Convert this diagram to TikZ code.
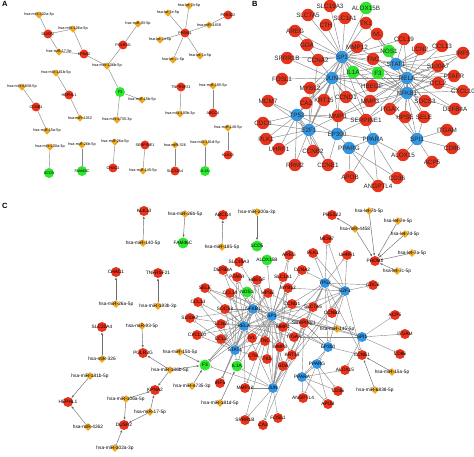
\documentclass[tikz,border=0pt]{standalone}
\usepackage{fontspec}
\setmainfont{Liberation Sans}
\usetikzlibrary{shapes.geometric,arrows.meta}
\pgfdeclarelayer{bg}
\pgfsetlayers{bg,main}
\definecolor{nred}{RGB}{232,52,28}
\definecolor{nora}{RGB}{240,168,32}
\definecolor{ngrn}{RGB}{45,230,45}
\definecolor{nblu}{RGB}{52,150,225}
\definecolor{ngry}{RGB}{135,135,135}
\tikzset{
  rA/.style={circle,fill=nred,inner sep=0pt,minimum size=9pt},
  gA/.style={circle,fill=ngrn,inner sep=0pt,minimum size=10pt},
  dA/.style={diamond,aspect=1,fill=nora,inner sep=0pt,minimum size=7.5pt},
  rB/.style={circle,fill=nred,inner sep=0pt,minimum size=12.5pt},
  gB/.style={circle,fill=ngrn,inner sep=0pt,minimum size=12.5pt},
  bB/.style={circle,fill=nblu,inner sep=0pt,minimum size=12.5pt},
  rC/.style={circle,fill=nred,inner sep=0pt,minimum size=10pt},
  gC/.style={circle,fill=ngrn,inner sep=0pt,minimum size=11pt},
  bC/.style={circle,fill=nblu,inner sep=0pt,minimum size=10pt},
  dC/.style={diamond,aspect=1,fill=nora,inner sep=0pt,minimum size=8pt},
  labA/.style={inner sep=0pt,font=\fontsize{3.8}{4}\selectfont,text=black},
  labB/.style={inner sep=0pt,font=\fontsize{6.3}{6.5}\selectfont,text=black!85},
  labC/.style={inner sep=0pt,font=\fontsize{4.8}{5}\selectfont,text=black},
  panel/.style={inner sep=0pt,font=\bfseries\fontsize{7.5}{8}\selectfont,anchor=north west},
  eA/.style={draw=ngry,line width=0.45pt},
  eB/.style={draw=ngry,line width=0.45pt},
  eT/.style={draw=ngry,line width=0.4pt,-{Bar[width=2.6pt,line width=0.5pt]},shorten >=0.6pt},
  eM/.style={draw=ngry!80!black,line width=0.45pt,-{Latex[length=2.6pt,width=2.2pt]}},
}
\newcommand\mkA[4]{\node[#1,label={[labA]center:#4}] (#2) at (#3) {};}
\newcommand\mkB[4]{\node[#1,label={[labB]center:#4}] (#2) at (#3) {};}
\newcommand\mkC[4]{\node[#1,label={[labC]center:#4}] (#2) at (#3) {};}
\newcommand\hubnet[2]{%
  \foreach \t in {SLC19A3,SLC7A5,SLC1A1,CTH,AREG,GDA,CCNA2,TK1,ALOX15B,MMP12,IVL,TNC,JUN,STAT1,RELA,NFKB1,IL1A,HBEGF,MMP3,CCND1,SPRR1B,CCL19,F3,SERPINE1,E2F1,TP53,MYBL2,KRT15,EP300,NOS1} {\draw[#2] (SP1#1) -- (\t#1);}
  \foreach \t in {FOSL1,SPRR1B,MYBL2,CA2,KRT15,CCND1,MMP1,MMP3,SERPINE1,IL1A,F3,RELA,TP53,E2F1,AREG,HBEGF,MMP12} {\draw[#2] (JUN#1) -- (\t#1);}
  \foreach \t in {NOS1,CCL19,IRF5,S100A7,TNC,RELA,NFKB1,LCN2,CCL13,PTAFR,CXCL10,CCL2,IVL,TK1,SOCS3,IL1A} {\draw[#2] (STAT1#1) -- (\t#1);}
  \foreach \t in {NFKB1,LCN2,CCL13,PTAFR,CCL2,CXCL10,SOCS3,DEFB4A,HBEGF,F3,MMP3,SERPINE1,ITGAX,HPSE,SELE,CCL19,IVL,MMP12,S100A7,IRF5,MMP1,CCND1} {\draw[#2] (RELA#1) -- (\t#1);}
  \foreach \t in {SOCS3,ITGAX,HPSE,SELE,DEFB4A,CXCL10,CCL2,MMP3,SERPINE1,PTAFR,IRF5,S100A7,HBEGF,F3,IL1A,MMP1,TNC} {\draw[#2] (NFKB1#1) -- (\t#1);}
  \foreach \t in {MCM7,CDC6,PLK1,UHRF1,CCNB2,E2F1,MMP1,CA2,EP300,SERPINE1,CCNE1} {\draw[#2] (TP53#1) -- (\t#1);}
  \foreach \t in {MCM7,CDC6,PLK1,UHRF1,CCNB2,CCNE1,MYBL2,CCNA2,EP300,MMP1,KRT15} {\draw[#2] (E2F1#1) -- (\t#1);}
  \foreach \t in {PPARG,MMP1,CCNE1,SERPINE1,PPARA} {\draw[#2] (EP300#1) -- (\t#1);}
  \foreach \t in {PPARG,CD36,ANGPTL4,APOB,SERPINE1,ALOX15} {\draw[#2] (PPARA#1) -- (\t#1);}
  \foreach \t in {APOB,CD36,ANGPTL4} {\draw[#2] (PPARG#1) -- (\t#1);}
  \foreach \t in {ITGAM,CD86,ACP5,ALOX15,ITGAX,NFKB1,SELE,HPSE} {\draw[#2] (SPI1#1) -- (\t#1);}
}
\begin{document}
\begin{tikzpicture}[x=1pt,y=-1pt]
\useasboundingbox (0,0) rectangle (474,457);
\node[panel] (pA) at (2,1) {A};
\node[panel] (pB) at (252,1) {B};
\node[panel] (pC) at (2,203) {C};
% ---------------- Panel A ----------------
\mkA{dA}{m302aA}{39,15}{hsa-miR-302a-3p}
\mkA{rA}{DUSP2A}{48,34}{DUSP2}
\mkA{dA}{m106aA}{73,29}{hsa-miR-106a-5p}
\mkA{dA}{m17A}{59,52}{hsa-miR-17-5p}
\mkA{rA}{KPNA2A}{84,54}{KPNA2}
\mkA{dA}{m106bA}{107,66}{hsa-miR-106b-5p}
\mkA{rA}{POLR3GA}{123,45}{POLR3G}
\mkA{dA}{m93A}{138,24}{hsa-miR-93-5p}
\mkA{dA}{m181bA}{56,73}{hsa-miR-181b-5p}
\mkA{rA}{HEPHL1A}{69,95}{HEPHL1}
\mkA{dA}{m4262A}{80,118}{hsa-miR-4262}
\mkA{dA}{m6838A}{22,87}{hsa-miR-6838-5p}
\mkA{rA}{CCNE1A}{36,107}{CCNE1}
\mkA{dA}{m15aA}{47,131}{hsa-miR-15a-5p}
\mkA{dA}{m200aA}{50,147}{hsa-miR-200a-3p}
\mkA{gA}{SCD5A}{49,173}{SCD5}
\mkA{dA}{m26bA}{82,145}{hsa-miR-26b-5p}
\mkA{gA}{FAM46CA}{82,171}{FAM46C}
\mkA{gA}{F3A}{120,92}{F3}
\mkA{dA}{m15bA}{142,100}{hsa-miR-15b-5p}
\mkA{dA}{m4735A}{117,120}{hsa-miR-4735-3p}
\mkA{dA}{m26aA}{115,142}{hsa-miR-26a-5p}
\mkA{rA}{CHAC1A}{113,168}{CHAC1}
\mkA{rA}{SERPINE1A}{145,145}{SERPINE1}
\mkA{dA}{m145A}{143,171}{hsa-miR-145-5p}
\mkA{dA}{m326A}{175,145}{hsa-miR-326}
\mkA{rA}{SLC22A4A}{175,171}{SLC22A4}
\mkA{dA}{m181dA}{205,143}{hsa-miR-181d-5p}
\mkA{gA}{IL1AA}{205,171}{IL1A}
\mkA{rA}{TNFRSF21A}{181,87}{TNFRSF21}
\mkA{dA}{m193bA}{180,114}{hsa-miR-193b-3p}
\mkA{dA}{m185A}{213,86}{hsa-miR-185-5p}
\mkA{rA}{ABCC4A}{213,113}{ABCC4}
\mkA{dA}{m140A}{228,128}{hsa-miR-140-5p}
\mkA{rA}{KLK13A}{228,155}{KLK13}
\mkA{rA}{PRDM1A}{185,33}{PRDM1}
\mkA{dA}{l7bA}{189,6}{hsa-let-7b-5p}
\mkA{dA}{l7eA}{168,13}{hsa-let-7e-5p}
\mkA{dA}{l7dA}{160,40}{hsa-let-7d-5p}
\mkA{dA}{l7aA}{200,56}{hsa-let-7a-5p}
\mkA{dA}{l7cA}{173,60}{hsa-let-7c-5p}
\mkA{dA}{m4458A}{209,25}{hsa-miR-4458}
\mkA{rA}{PRSS22A}{228,15}{PRSS22}
% ---------------- Panel B ----------------
\mkB{rB}{SLC19A3B}{330,6}{SLC19A3}
\mkB{rB}{SLC7A5B}{308,15}{SLC7A5}
\mkB{rB}{SLC1A1B}{345,18}{SLC1A1}
\mkB{rB}{CTHB}{326,25}{CTH}
\mkB{rB}{AREGB}{295,31}{AREG}
\mkB{rB}{GDAB}{307,45}{GDA}
\mkB{bB}{SP1B}{342,57}{SP1}
\mkB{rB}{SPRR1BB}{287,58}{SPRR1B}
\mkB{rB}{CCNA2B}{318,60}{CCNA2}
\mkB{gB}{IL1AB}{353,72}{IL1A}
\mkB{bB}{JUNB}{332,78}{JUN}
\mkB{rB}{FOSL1B}{282,79}{FOSL1}
\mkB{rB}{MYBL2B}{310,88}{MYBL2}
\mkB{rB}{MCM7B}{268,101}{MCM7}
\mkB{rB}{CA2B}{306,103}{CA2}
\mkB{rB}{KRT15B}{324,100}{KRT15}
\mkB{rB}{CCND1B}{346,97}{CCND1}
\mkB{gB}{ALOX15BB}{366,8}{ALOX15B}
\mkB{rB}{TK1B}{366,23}{TK1}
\mkB{rB}{IVLB}{377,34}{IVL}
\mkB{rB}{MMP12B}{357,47}{MMP12}
\mkB{gB}{NOS1B}{389,51}{NOS1}
\mkB{rB}{CCL19B}{404,39}{CCL19}
\mkB{rB}{LCN2B}{420,49}{LCN2}
\mkB{rB}{CCL13B}{442,46}{CCL13}
\mkB{rB}{IRF5B}{463,53}{IRF5}
\mkB{rB}{TNCB}{373,59}{TNC}
\mkB{bB}{STAT1B}{396,64}{STAT1}
\mkB{rB}{S100A7B}{438,66}{S100A7}
\mkB{gB}{F3B}{378,73}{F3}
\mkB{bB}{RELAB}{407,78}{RELA}
\mkB{rB}{PTAFRB}{454,76}{PTAFR}
\mkB{rB}{HBEGFB}{372,86}{HBEGF}
\mkB{rB}{CCL2B}{438,83}{CCL2}
\mkB{rB}{CXCL10B}{463,91}{CXCL10}
\mkB{bB}{NFKB1B}{407,93}{NFKB1}
\mkB{rB}{SOCS3B}{425,101}{SOCS3}
\mkB{rB}{MMP3B}{370,101}{MMP3}
\mkB{rB}{ITGAXB}{390,109}{ITGAX}
\mkB{rB}{DEFB4AB}{455,109}{DEFB4A}
\mkB{rB}{SERPINE1B}{366,120}{SERPINE1}
\mkB{rB}{HPSEB}{405,117}{HPSE}
\mkB{rB}{SELEB}{424,117}{SELE}
\mkB{rB}{ITGAMB}{447,130}{ITGAM}
\mkB{bB}{PPARAB}{373,139}{PPARA}
\mkB{bB}{SPI1B}{417,139}{SPI1}
\mkB{rB}{CD86B}{452,148}{CD86}
\mkB{rB}{ALOX15B}{403,155}{ALOX15}
\mkB{rB}{ACP5B}{432,162}{ACP5}
\mkB{bB}{PPARGB}{349,148}{PPARG}
\mkB{rB}{CD36B}{397,178}{CD36}
\mkB{rB}{ANGPTL4B}{378,186}{ANGPTL4}
\mkB{rB}{APOBB}{350,177}{APOB}
\mkB{bB}{TP53B}{297,115}{TP53}
\mkB{rB}{MMP1B}{338,116}{MMP1}
\mkB{rB}{CDC6B}{263,123}{CDC6}
\mkB{bB}{E2F1B}{309,130}{E2F1}
\mkB{bB}{EP300B}{337,134}{EP300}
\mkB{rB}{PLK1B}{266,139}{PLK1}
\mkB{rB}{UHRF1B}{279,149}{UHRF1}
\mkB{rB}{CCNB2B}{313,151}{CCNB2}
\mkB{rB}{RRM2B}{295,165}{RRM2}
\mkB{rB}{CCNE1B}{328,165}{CCNE1}
% ---------------- Panel C ----------------
\mkC{rC}{KLK13C}{144,211}{KLK13}
\mkC{dC}{m140C}{143,243}{hsa-miR-140-5p}
\mkC{rC}{CHAC1C}{116,272}{CHAC1}
\mkC{rC}{TNFRSF21C}{158,273}{TNFRSF21}
\mkC{dC}{m26aC}{116,304}{hsa-miR-26a-5p}
\mkC{dC}{m193bC}{158,306}{hsa-miR-193b-3p}
\mkC{rC}{SLC22A4C}{102,327}{SLC22A4}
\mkC{dC}{m93C}{142,326}{hsa-miR-93-5p}
\mkC{rC}{POLR3GC}{143,353}{POLR3G}
\mkC{dC}{m326C}{102,359}{hsa-miR-326}
\mkC{dC}{m106bC}{170,370}{hsa-miR-106b-5p}
\mkC{dC}{m181bC}{90,376}{hsa-miR-181b-5p}
\mkC{rC}{HEPHL1C}{68,402}{HEPHL1}
\mkC{dC}{m106aC}{126,399}{hsa-miR-106a-5p}
\mkC{rC}{KPNA2C}{155,390}{KPNA2}
\mkC{dC}{m17C}{150,412}{hsa-miR-17-5p}
\mkC{rC}{DUSP2C}{124,425}{DUSP2}
\mkC{dC}{m4262C}{88,427}{hsa-miR-4262}
\mkC{dC}{m302aC}{115,448}{hsa-miR-302a-3p}
\mkC{dC}{m26bC}{185,214}{hsa-miR-26b-5p}
\mkC{gC}{FAM46CC}{183,243}{FAM46C}
\mkC{rC}{ABCC4C}{223,215}{ABCC4}
\mkC{dC}{m185C}{222,247}{hsa-miR-185-5p}
\mkC{dC}{m200aC}{257,212}{hsa-miR-200a-3p}
\mkC{gC}{SCD5C}{257,246}{SCD5}
\mkC{gC}{ALOX15BC}{267,260}{ALOX15B}
\mkC{rC}{AREGC}{289,255}{AREG}
\mkC{rC}{SLC19A3C}{239,262}{SLC19A3}
\mkC{rC}{DEFB4AC}{223,270}{DEFB4A}
\mkC{rC}{PTAFRC}{237,277}{PTAFR}
\mkC{rC}{HBEGFC}{257,280}{HBEGF}
\mkC{rC}{SLC1A1C}{283,277}{SLC1A1}
\mkC{rC}{CCNA2C}{302,270}{CCNA2}
\mkC{rC}{PLK1C}{313,253}{PLK1}
\mkC{gC}{NOS1C}{247,292}{NOS1}
\mkC{rC}{CCL19C}{230,293}{CCL19}
\mkC{rC}{SELEC}{205,288}{SELE}
\mkC{rC}{HPSEC}{268,293}{HPSE}
\mkC{rC}{MYBL2C}{288,288}{MYBL2}
\mkC{rC}{CCL13C}{198,302}{CCL13}
\mkC{rC}{SOCS3C}{225,309}{SOCS3}
\mkC{bC}{NFKB1C}{253,309}{NFKB1}
\mkC{bC}{SP1C}{272,316}{SP1}
\mkC{rC}{CCND1C}{292,304}{CCND1}
\mkC{rC}{SLC7A5C}{313,307}{SLC7A5}
\mkC{rC}{S100A7C}{190,318}{S100A7}
\mkC{rC}{LCN2C}{221,324}{LCN2}
\mkC{bC}{RELAC}{244,326}{RELA}
\mkC{rC}{MMP1C}{283,327}{MMP1}
\mkC{rC}{SERPINE1C}{304,323}{SERPINE1}
\mkC{rC}{CXCL10C}{197,335}{CXCL10}
\mkC{rC}{CCL2C}{221,339}{CCL2}
\mkC{bC}{STAT1C}{235,350}{STAT1}
\mkC{rC}{IVLC}{252,338}{IVL}
\mkC{rC}{TNCC}{265,341}{TNC}
\mkC{rC}{MMP3C}{280,347}{MMP3}
\mkC{rC}{ITGAXC}{294,337}{ITGAX}
\mkC{rC}{KRT15C}{292,355}{KRT15}
\mkC{rC}{CTHC}{253,356}{CTH}
\mkC{rC}{TK1C}{267,359}{TK1}
\mkC{rC}{GDAC}{283,366}{GDA}
\mkC{gC}{F3C}{205,365}{F3}
\mkC{gC}{IL1AC}{237,366}{IL1A}
\mkC{bC}{PPARAC}{302,377}{PPARA}
\mkC{rC}{IRF5C}{220,383}{IRF5}
\mkC{rC}{MMP12C}{245,388}{MMP12}
\mkC{bC}{JUNC}{273,388}{JUN}
\mkC{rC}{ANGPTL4C}{303,398}{ANGPTL4}
\mkC{dC}{m15bC}{180,352}{hsa-miR-15b-5p}
\mkC{dC}{m4735C}{192,386}{hsa-miR-4735-3p}
\mkC{dC}{m181dC}{220,403}{hsa-miR-181d-5p}
\mkC{rC}{SPRR1BC}{245,420}{SPRR1B}
\mkC{rC}{FOSL1C}{278,418}{FOSL1}
\mkC{rC}{CA2C}{263,425}{CA2}
\mkC{rC}{PRSS22C}{332,215}{PRSS22}
\mkC{dC}{l7bC}{369,211}{hsa-let-7b-5p}
\mkC{dC}{m4458C}{355,229}{hsa-miR-4458}
\mkC{dC}{l7eC}{398,221}{hsa-let-7e-5p}
\mkC{dC}{l7dC}{405,234}{hsa-let-7d-5p}
\mkC{dC}{l7aC}{412,253}{hsa-let-7a-5p}
\mkC{dC}{l7cC}{397,271}{hsa-let-7c-5p}
\mkC{rC}{PRDM1C}{375,261}{PRDM1}
\mkC{rC}{MCM7C}{327,239}{MCM7}
\mkC{rC}{UHRF1C}{347,255}{UHRF1}
\mkC{bC}{TP53C}{325,283}{TP53}
\mkC{bC}{E2F1C}{345,291}{E2F1}
\mkC{rC}{CDC6C}{373,285}{CDC6}
\mkC{rC}{CCNB2C}{332,313}{CCNB2}
\mkC{dC}{m145C}{337,329}{hsa-miR-145-5p}
\mkC{bC}{SPI1C}{362,337}{SPI1}
\mkC{rC}{ACP5C}{395,315}{ACP5}
\mkC{rC}{ITGAMC}{405,334}{ITGAM}
\mkC{rC}{CD86C}{400,354}{CD86}
\mkC{bC}{EP300C}{328,347}{EP300}
\mkC{rC}{CCNE1C}{362,355}{CCNE1}
\mkC{rC}{ALOX15C}{345,370}{ALOX15}
\mkC{dC}{m15aC}{392,372}{hsa-miR-15a-5p}
\mkC{bC}{PPARGC}{317,364}{PPARG}
\mkC{rC}{CD36C}{338,391}{CD36}
\mkC{dC}{m6838C}{375,390}{hsa-miR-6838-5p}
\mkC{rC}{APOBC}{328,404}{APOB}
% ---------------- Edges ----------------
\begin{pgfonlayer}{bg}
\foreach \a/\b in {m302aA/DUSP2A,m106aA/DUSP2A,m106aA/KPNA2A,m17A/DUSP2A,m17A/KPNA2A,m106bA/KPNA2A,m106bA/POLR3GA,m106bA/F3A,m93A/POLR3GA,m181bA/HEPHL1A,m4262A/HEPHL1A,m6838A/CCNE1A,m15aA/CCNE1A,m200aA/SCD5A,m26bA/FAM46CA,m15bA/F3A,m4735A/F3A,m26aA/CHAC1A,m145A/SERPINE1A,m326A/SLC22A4A,m181dA/IL1AA,m193bA/TNFRSF21A,m185A/ABCC4A,m140A/KLK13A,l7bA/PRDM1A,l7eA/PRDM1A,l7dA/PRDM1A,l7aA/PRDM1A,l7cA/PRDM1A,m4458A/PRDM1A,m4458A/PRSS22A}
  {\draw[eA] (\a) -- (\b);}
\hubnet{B}{eB}
\foreach \a in {TP53B,E2F1B} {\draw[eB] (\a) -- (RRM2B);}
\hubnet{C}{eT}
\foreach \a/\b in {m140C/KLK13C,m26aC/CHAC1C,m193bC/TNFRSF21C,m93C/POLR3GC,m326C/SLC22A4C,m106bC/POLR3GC,m106bC/KPNA2C,m106bC/F3C,m181bC/HEPHL1C,m4262C/HEPHL1C,m106aC/KPNA2C,m106aC/DUSP2C,m17C/KPNA2C,m17C/DUSP2C,m302aC/DUSP2C,m26bC/FAM46CC,m185C/ABCC4C,m200aC/SCD5C,m15bC/F3C,m4735C/F3C,m181dC/IL1AC,m145C/SERPINE1C,l7bC/PRDM1C,l7eC/PRDM1C,l7dC/PRDM1C,l7aC/PRDM1C,l7cC/PRDM1C,m4458C/PRDM1C,m4458C/PRSS22C,m15aC/CCNE1C,m6838C/CCNE1C}
  {\draw[eM] (\a) -- (\b);}
\end{pgfonlayer}
\end{tikzpicture}
\end{document}
